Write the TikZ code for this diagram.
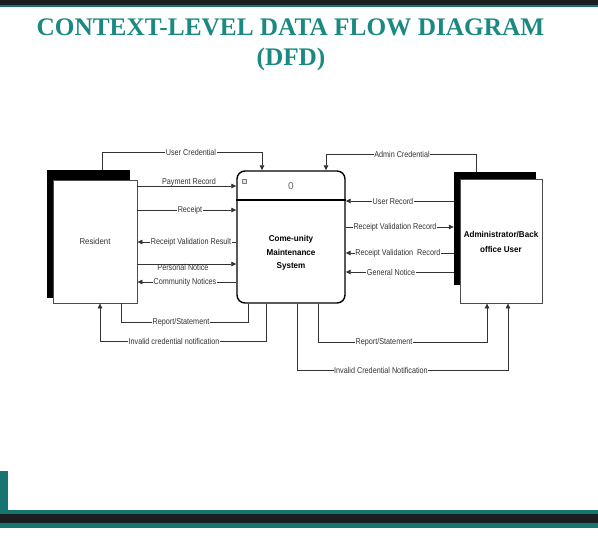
\documentclass[tikz,border=0pt]{standalone}
\usepackage{fontspec}
\setmainfont{Liberation Serif}
\newfontfamily\lblfont{Liberation Sans}
\usetikzlibrary{arrows.meta}
\definecolor{titleteal}{HTML}{1A8982}
\definecolor{barteal}{HTML}{167570}
\definecolor{bardark}{HTML}{1B1E21}
\definecolor{lblgray}{HTML}{333333}
\begin{document}
\begin{tikzpicture}[x=1pt,y=-1pt,
  flow/.style={draw=black!80, line width=0.7pt},
  arr/.style={flow, -{Triangle[length=5pt,width=4.5pt]}},
  lbl/.style={fill=white, inner sep=0.6pt, text=lblgray, font=\lblfont\fontsize{8.5}{9}\selectfont, xscale=0.85},
  entbox/.style={draw=black!70, fill=white, line width=0.8pt, inner sep=0pt},
  shadowbox/.style={fill=black, draw=black, inner sep=0pt},
  title/.style={text=titleteal, font=\bfseries\fontsize{25.3}{30}\selectfont, inner sep=0pt, anchor=base}
]
\useasboundingbox (0,0) rectangle (598,542);
% bars
\fill[bardark] (0,0) rectangle (598,4.5);
\fill[barteal] (0,4.5) rectangle (598,6.8);
\fill[barteal] (0,471) rectangle (8,511);
\fill[barteal] (0,510) rectangle (598,514);
\fill[bardark] (0,514) rectangle (598,523.3);
\fill[barteal] (0,523.3) rectangle (598,527.7);
% title
\node[title] (t1) at (290.5,35) {CONTEXT-LEVEL DATA FLOW DIAGRAM};
\node[title] (t2) at (291,65) {(DFD)};

% Resident
\node[shadowbox, minimum width=82pt, minimum height=127pt] (resshadow) at (88,233.5) {};
\node[entbox, minimum width=84pt, minimum height=123pt] (res) at (95,241.5) {};
\node[font=\lblfont\fontsize{8.5}{9}\selectfont, xscale=0.92, text=black!80] (restxt) at (95,241.5) {Resident};

% Admin
\node[shadowbox, minimum width=81pt, minimum height=112pt] (admshadow) at (494.5,228) {};
\node[entbox, minimum width=82pt, minimum height=124pt] (admin) at (501,241) {};
\node[font=\lblfont\bfseries\fontsize{8.5}{15}\selectfont, xscale=0.95, align=center] (admtxt) at (501,241.5) {Administrator/Back\\office User};

% Process
\node[draw=black, line width=1.4pt, rounded corners=8pt, fill=white, minimum width=108pt, minimum height=132pt, inner sep=0pt] (proc) at (291,237) {};
\draw[line width=1.4pt] (proc.west |- 0,200) -- (proc.east |- 0,200);
\node[font=\lblfont\fontsize{10}{10}\selectfont, text=black!60] (pid) at (291,186.5) {0};
\node[draw=black!50, fill=black!10, minimum width=4pt, minimum height=4pt, inner sep=0pt, line width=0.4pt] (picon) at (244,181) {};
\node[font=\lblfont\bfseries\fontsize{8.5}{13.5}\selectfont, xscale=0.95, align=center] (ptxt) at (291,253) {Come-unity\\Maintenance\\System};

% Resident flows
\coordinate (uc1) at (102,152);
\coordinate (uc2) at (262,152);
\draw[arr] (resshadow.north -| uc1) -- (uc1) -- (uc2) -- (proc.north -| uc2);
\node[lbl] (lucred) at (191,152) {User Credential};

\draw[arr] (res.east |- 0,186) -- (proc.west |- 0,186);
\node[lbl, fill=none] (lpay) at (189,182.5) {Payment Record};

\draw[arr] (res.east |- 0,210) -- (proc.west |- 0,210);
\node[lbl] (lrec) at (190,210) {Receipt};

\draw[arr] (proc.west |- 0,242) -- (res.east |- 0,242);
\node[lbl] (lrvr) at (191,242) {Receipt Validation Result};

\draw[arr] (res.east |- 0,264) -- (proc.west |- 0,264);
\node[lbl, fill=none] (lpn) at (183,267.5) {Personal Notice};

\draw[arr] (proc.west |- 0,282) -- (res.east |- 0,282);
\node[lbl] (lcn) at (185,282) {Community Notices};

% Admin flows
\coordinate (ac1) at (476,154);
\coordinate (ac2) at (326,154);
\draw[arr] (admshadow.north -| ac1) -- (ac1) -- (ac2) -- (proc.north -| ac2);
\node[lbl] (lacred) at (402,154) {Admin Credential};

\draw[arr] (admshadow.west |- 0,201) -- (proc.east |- 0,201);
\node[lbl] (lur) at (393,201) {User Record};

\draw[arr] (proc.east |- 0,227) -- (admshadow.west |- 0,227);
\node[lbl] (lrvr2) at (395,227) {Receipt Validation Record};

\draw[arr] (admshadow.west |- 0,253) -- (proc.east |- 0,253);
\node[lbl] (lrvr3) at (398,253) {Receipt Validation\ \ Record};

\draw[arr] (admshadow.west |- 0,272) -- (proc.east |- 0,272);
\node[lbl] (lgn) at (391,272) {General Notice};

% Bottom flows
\coordinate (rs1) at (248,322);
\coordinate (rs2) at (121,322);
\draw[flow] (proc.south -| rs1) -- (rs1) -- (rs2) -- (res.south -| rs2);
\node[lbl] (lrs1) at (181,322) {Report/Statement};

\coordinate (ic1) at (266,341);
\coordinate (ic2) at (100,341);
\draw[arr] (proc.south -| ic1) -- (ic1) -- (ic2) -- (res.south -| ic2);
\node[lbl] (lic1) at (174,341) {Invalid credential notification};

\coordinate (rs3) at (318,342);
\coordinate (rs4) at (487,342);
\draw[arr] (proc.south -| rs3) -- (rs3) -- (rs4) -- (admin.south -| rs4);
\node[lbl] (lrs2) at (384,342) {Report/Statement};

\coordinate (ic3) at (297,370);
\coordinate (ic4) at (508,370);
\draw[arr] (proc.south -| ic3) -- (ic3) -- (ic4) -- (admin.south -| ic4);
\node[lbl] (lic2) at (381,370) {Invalid Credential Notification};
\end{tikzpicture}
\end{document}
